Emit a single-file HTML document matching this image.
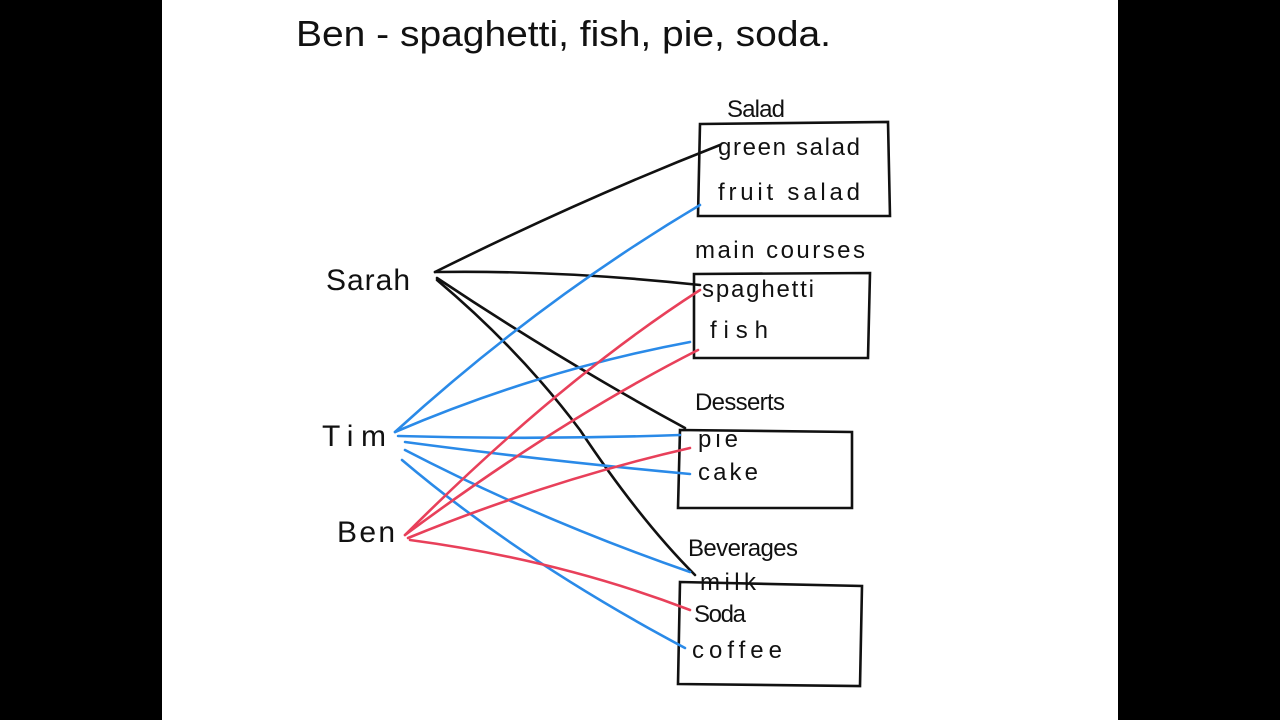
<!DOCTYPE html>
<html><head><meta charset="utf-8"><style>
html,body{margin:0;padding:0;background:#000;}
#c{position:absolute;left:162px;top:0;width:956px;height:720px;background:#fff;}
svg{position:absolute;left:0;top:0}
text{font-family:"Liberation Sans",sans-serif;fill:#111;}
</style></head><body>
<div id="c"></div>
<svg width="1280" height="720" viewBox="0 0 1280 720">
<g fill="none" stroke-linecap="round" stroke-width="2.6">
<!-- boxes -->
<g stroke="#111">
<path d="M700,124 L888,122 L890,216 L698,216 Z"/>
<path d="M694,274 L870,273 L868,358 L694,358 Z"/>
<path d="M680,430 L852,432 L852,508 L678,508 Z"/>
<path d="M680,582 L862,586 L860,686 L678,684 Z"/>
<!-- Sarah lines -->
<path d="M435,272 Q580,200 720,145"/>
<path d="M435,272 Q560,270 700,285"/>
<path d="M437,278 Q560,360 685,428"/>
<path d="M437,280 Q520,350 580,430 Q640,520 695,575"/>
</g>
<g stroke="#2a8ae8">
<path d="M395,432 Q540,300 700,205"/>
<path d="M395,432 Q540,370 690,342"/>
<path d="M398,436 Q540,440 680,435"/>
<path d="M405,442 Q540,460 690,474"/>
<path d="M405,450 Q540,520 690,572"/>
<path d="M402,460 Q520,560 685,648"/>
</g>
<g stroke="#e8405a">
<path d="M405,535 Q560,380 700,290"/>
<path d="M405,535 Q560,420 698,350"/>
<path d="M408,538 Q550,480 690,448"/>
<path d="M410,540 Q560,560 690,610"/>
</g>
</g>
<g font-size="30">
<text x="296" y="46" font-size="36" textLength="535" lengthAdjust="spacingAndGlyphs">Ben - spaghetti, fish, pie, soda.</text>
<text x="326" y="290" textLength="84">Sarah</text>
<text x="322" y="446" textLength="64">Tim</text>
<text x="337" y="542" textLength="58">Ben</text>
</g>
<g font-size="24">
<text x="727" y="117" textLength="58">Salad</text>
<text x="718" y="155" textLength="142">green salad</text>
<text x="718" y="200" textLength="142">fruit salad</text>
<text x="695" y="258" textLength="170">main courses</text>
<text x="702" y="297" textLength="112">spaghetti</text>
<text x="710" y="338" textLength="58">fish</text>
<text x="695" y="410" textLength="90">Desserts</text>
<text x="698" y="447" textLength="40">pie</text>
<text x="698" y="480" textLength="60">cake</text>
<text x="688" y="556" textLength="110">Beverages</text>
<text x="700" y="590" textLength="56">milk</text>
<text x="694" y="622" textLength="52">Soda</text>
<text x="692" y="658" textLength="90">coffee</text>
</g>
</svg>
</body></html>
